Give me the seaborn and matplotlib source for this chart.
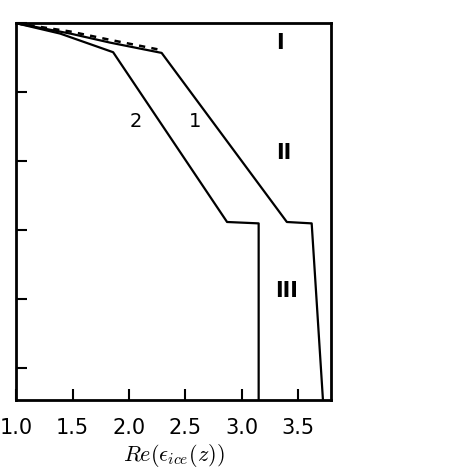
import numpy as np
import pandas as pd
import seaborn as sns
import matplotlib
matplotlib.use("Agg")
import matplotlib.pyplot as plt

# curve 1 (outer), depth in tick units, axis inverted
eps_1 = [1.0, 1.48, 1.83, 2.29, 3.40, 3.62, 3.72]
depth_1 = [0.0, 0.15, 0.28, 0.43, 2.88, 2.90, 5.46]

# curve 2 (inner)
eps_2 = [1.0, 1.39, 1.86, 2.87, 3.15, 3.15]
depth_2 = [0.0, 0.15, 0.42, 2.88, 2.90, 5.46]

# dashed curve over region I
eps_d = [1.0, 1.48, 1.83, 2.26]
depth_d = [0.0, 0.12, 0.24, 0.38]

curve_labels = [("1", 2.59, 1.42), ("2", 2.06, 1.42)]
region_labels = [("I", 3.34, 0.29), ("II", 3.37, 1.88), ("III", 3.40, 3.88)]

sns.set_style("ticks", {"axes.edgecolor": "black", "text.color": "black",
                        "xtick.color": "black", "ytick.color": "black",
                        "axes.labelcolor": "black"})
plt.rcParams["font.family"] = ["DejaVu Sans"]
plt.rcParams["mathtext.fontset"] = "cm"

fig = plt.figure(figsize=(4.74, 4.74), dpi=100)
ax = fig.add_axes([0.034, 0.156, 0.664, 0.795])

df1 = pd.DataFrame({"eps": eps_1, "depth": depth_1})
df2 = pd.DataFrame({"eps": eps_2, "depth": depth_2})
dfd = pd.DataFrame({"eps": eps_d, "depth": depth_d})

sns.lineplot(data=df1, x="eps", y="depth", sort=False, estimator=None,
             color="black", lw=1.6, ax=ax)
sns.lineplot(data=df2, x="eps", y="depth", sort=False, estimator=None,
             color="black", lw=1.6, ax=ax)
sns.lineplot(data=dfd, x="eps", y="depth", sort=False, estimator=None,
             color="black", lw=1.8, ls=(0, (2.5, 2.5)), ax=ax)

for txt, x, y in curve_labels:
    ax.text(x, y, txt, fontsize=14, ha="center", va="center", color="black")
for txt, x, y in region_labels:
    ax.text(x, y, txt, fontsize=15, fontweight="bold", ha="center",
            va="center", color="black")

ax.set_xlim(1.0, 3.79)
ax.set_ylim(5.46, 0)
ax.set_xticks([1.0, 1.5, 2.0, 2.5, 3.0, 3.5])
ax.set_xticklabels(["1.0", "1.5", "2.0", "2.5", "3.0", "3.5"])
ax.set_yticks([0, 1, 2, 3, 4, 5])
ax.set_yticklabels([])
ax.tick_params(direction="in", length=8, width=1.5, labelsize=15, pad=13,
               colors="black")
ax.tick_params(axis="y", left=True, right=False)
ax.tick_params(axis="x", top=False)
for s in ax.spines.values():
    s.set_linewidth(2)
    s.set_color("black")
    s.set_visible(True)
ax.set_xlabel(r"$Re(\epsilon_{ice}(z))$", fontsize=16, labelpad=3)
ax.set_ylabel("")

fig.savefig("out.png", dpi=100)
